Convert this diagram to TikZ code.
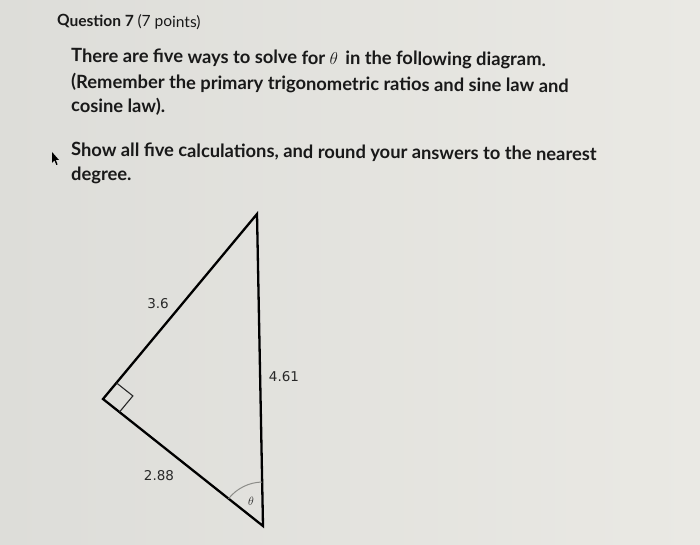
\documentclass[tikz,border=0pt]{standalone}
\usepackage{fontspec}
\setmainfont{Lato}
\newfontfamily\labelfont{DejaVu Sans}
\usetikzlibrary{calc,angles,quotes}

\definecolor{paperL}{RGB}{221,221,217}
\definecolor{paperR}{RGB}{234,233,228}
\definecolor{inkgray}{RGB}{40,40,40}
\definecolor{arcgray}{RGB}{140,140,136}

\tikzset{
  side/.style={line width=2.3pt, line join=miter, black},
  sqmark/.style={line width=1.1pt, inkgray},
  lbl/.style={font=\labelfont\fontsize{13.5}{16}\selectfont, text=inkgray, inner sep=0pt},
  qline/.style={anchor=base west, inner sep=0pt, rotate=-0.5,
    font=\fontsize{18.3}{22}\selectfont\bfseries, text=black!90}
}

\begin{document}
\begin{tikzpicture}[x=1pt,y=1pt]
  \shade[left color=paperL, right color=paperR] (0,0) rectangle (700,544);
  \useasboundingbox (0,0) rectangle (700,544);

  % heading and question text
  \node[anchor=base west, inner sep=0pt, rotate=-0.5, font=\fontsize{15.5}{19}\selectfont, text=black!90] (head) at (57,518)
    {\bfseries Question 7 \mdseries(7 points)};
  \node[qline] (l1) at (71,482) {There are five ways to solve for $\theta$\, in the following diagram.};
  \node[qline] (l2) at (71,456) {(Remember the primary trigonometric ratios and sine law and};
  \node[qline] (l3) at (71,432) {cosine law).};
  \node[qline] (l4) at (71,388) {Show all five calculations, and round your answers to the nearest};
  \node[qline] (l5) at (71,364) {degree.};

  % mouse pointer
  \fill[black] (52,392) -- (52,381) -- (54.5,383.5) -- (56.3,379) -- (57.6,379.6) -- (55.8,384) -- (59,384) -- cycle;

  % triangle
  \coordinate (A) at (257,330);
  \coordinate (C) at (103,145);
  \coordinate (B) at (263,18);
  \draw[side] (A) -- (C) -- (B) -- cycle;

  % right angle mark
  \coordinate (ca) at ($(C)!21pt!(A)$);
  \coordinate (cb) at ($(C)!21pt!(B)$);
  \draw[sqmark] (ca) -- ($(ca)+(cb)-(C)$) -- (cb);

  % angle theta
  \pic[draw=arcgray, line width=1pt, angle radius=44pt, angle eccentricity=0.62,
    "$\theta$", pic text options={font=\fontsize{12}{14}\selectfont, text=inkgray}] {angle = A--B--C};

  % side lengths
  \node[lbl] (ac) at (158,240) {3.6};
  \node[lbl] (ab) at (284,167) {4.61};
  \node[lbl] (cbl) at (159,68) {2.88};
\end{tikzpicture}
\end{document}
